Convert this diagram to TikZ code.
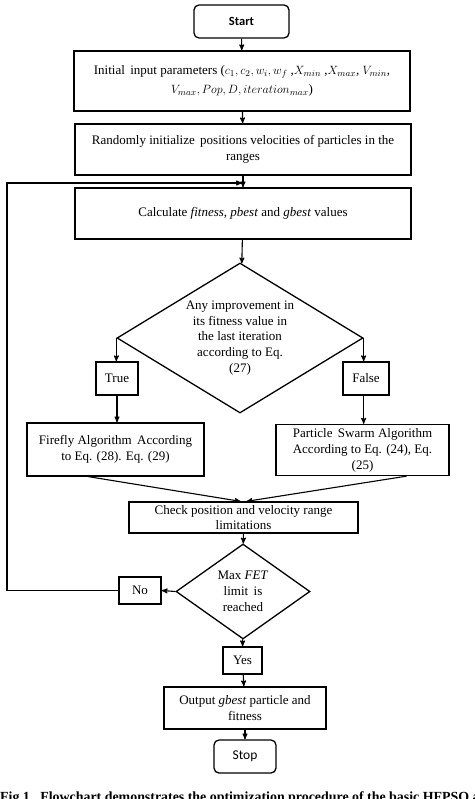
\documentclass[tikz,border=0pt]{standalone}
\usepackage{fontspec}
\setmainfont{Liberation Serif}
\newfontfamily\termfont{Carlito}
\usepackage{amsmath}
\usetikzlibrary{shapes.geometric, positioning, arrows}
\tikzset{
>=stealth', % small filled arrow heads
box/.style={draw, line width=1.3pt, align=center, inner sep=1pt}, % process boxes
term/.style={box, rounded corners=5pt}, % start and stop boxes
decision/.style={draw, diamond, line width=1.3pt, align=center, inner sep=0pt}, % yes/no questions
flow/.style={->, line width=1.1pt}, % connectors between the boxes
}

\begin{document}
\begin{tikzpicture}[x=1pt, y=-1pt, font=\fontsize{13}{15.6}\selectfont]
\useasboundingbox (0,0) rectangle (474,799);

\node[term, minimum width=95pt, minimum height=33pt, font=\termfont\fontsize{12.5}{15}\selectfont\bfseries] (start) at (241.5,21.5) {Start};
\node[box, minimum width=336pt, minimum height=60pt, font=\fontsize{13}{18.5}\selectfont] (init) at (242,81)
    {Initial\, input parameters ($c_1,c_2,w_i,w_f$ ,$X_{min}$ ,$X_{max}$, $V_{min}$,\\$V_{max}, Pop, D, iteration_{max}$)};
\node[box, minimum width=336pt, minimum height=51pt] (rand) at (243,149.5)
    {Randomly initialize\, positions velocities of particles in the\\ranges};
\coordinate (join) at (242,183);
\node[box, minimum width=336pt, minimum height=51pt] (calc) at (243,213.5)
    {Calculate \textit{fitness}, \textit{pbest} and \textit{gbest} values};

\node[decision, minimum width=246pt, minimum height=150pt, aspect=1.64] (improve) at (240,338)
    {Any improvement in\\its fitness value in\\the last iteration\\according to Eq.\\(27)};
\node[box, minimum width=42pt, minimum height=33pt] (true) at (117,378.5) {True};
\node[box, minimum width=46pt, minimum height=33pt] (false) at (366,378.5) {False};

\node[box, minimum width=177pt, minimum height=53pt] (firefly) at (115.5,449.5)
    {Firefly Algorithm\, According\\to Eq. (28). Eq. (29)};
\node[box, minimum width=173pt, minimum height=51pt, font=\fontsize{13}{16}\selectfont] (swarm) at (362.5,450)
    {Particle\, Swarm Algorithm\\According to Eq. (24), Eq.\\(25)};

\node[box, minimum width=229pt, minimum height=31pt, font=\fontsize{13}{15}\selectfont] (check) at (243.5,517.5)
    {Check position and velocity range\\limitations};

\node[decision, minimum width=134pt, minimum height=95pt, aspect=1.4, font=\fontsize{13}{16}\selectfont] (fet) at (243,591.5)
    {Max \textit{FET}\\limit\, is\\reached};
\node[box, minimum width=42pt, minimum height=27pt] (no) at (140,590.5) {No};
\node[box, minimum width=39pt, minimum height=27pt] (yes) at (242.5,660.5) {Yes};
\node[box, minimum width=162pt, minimum height=42pt] (output) at (245,708)
    {Output \textit{gbest} particle and\\fitness};
\node[term, minimum width=62pt, minimum height=33pt, font=\termfont\fontsize{13.5}{15}\selectfont] (stop) at (245,756.5) {Stop};
\coordinate (left) at (7,183);

% caption, cut by the lower edge
\node[anchor=north west, inner sep=0pt, font=\fontsize{13.9}{16}\selectfont\bfseries] (caption) at (0,792)
    {Fig 1.\, Flowchart demonstrates the optimization procedure of the basic HFPSO algorithm};

% connectors
\draw[flow] (start) -- (init);
\draw[flow] (init) -- (rand);
\draw[flow] (rand) -- (calc);
\draw[flow] (calc) -- (improve);
\draw[flow] (improve.west) -- (improve.west |- true.north);
\draw[flow] (improve.east) -- (improve.east |- false.north);
\draw[flow] (true) -- (true |- firefly.north);
\draw[flow] (improve.east |- false.south) -- (improve.east |- swarm.north);
\draw[flow] ([xshift=-27pt]firefly.south) -- ([xshift=-3pt]check.north);
\draw[flow] ([xshift=44pt]swarm.south) -- ([xshift=3pt]check.north);
\draw[flow] (check) -- (fet);
\draw[flow] (fet.west) -- (no.east);
\draw[flow] (no.west) -| (left) -- (join);
\draw[flow] (fet) -- (yes);
\draw[flow] (yes) -- (output);
\draw[flow] (output) -- (stop);
\end{tikzpicture}
\end{document}
